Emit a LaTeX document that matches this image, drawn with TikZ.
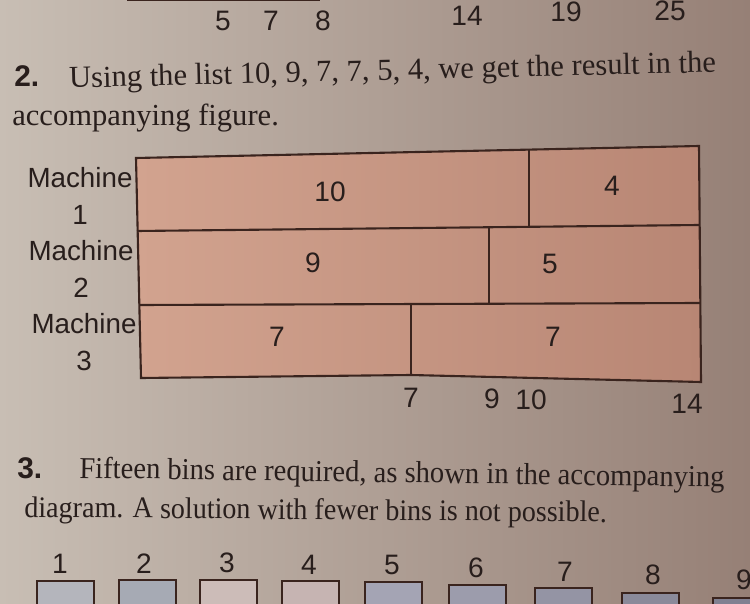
\documentclass[tikz,border=0pt]{standalone}
\usepackage{fontspec}
\setmainfont{Liberation Serif}
\newfontfamily\narrowserif[FakeStretch=0.94]{Liberation Serif}
\newfontfamily\figfont{Liberation Sans}
\usetikzlibrary{positioning}

\definecolor{paperL}{RGB}{200,190,180}
\definecolor{paperR}{RGB}{150,128,118}
\definecolor{boxL}{RGB}{210,163,143}
\definecolor{boxR}{RGB}{184,134,116}
\definecolor{ink}{RGB}{40,30,28}
\definecolor{rule}{RGB}{58,36,30}
\definecolor{binA}{RGB}{180,181,188}
\definecolor{binB}{RGB}{166,170,180}
\definecolor{binC}{RGB}{204,188,184}
\definecolor{binD}{RGB}{198,180,178}
\definecolor{binE}{RGB}{164,164,180}
\definecolor{binF}{RGB}{156,156,172}
\definecolor{binG}{RGB}{148,148,164}
\definecolor{binH}{RGB}{138,138,154}
\definecolor{binI}{RGB}{128,128,145}

\begin{document}
\begin{tikzpicture}[x=0.02cm, y=-0.02cm, text=ink,
    body/.style={inner sep=0pt, anchor=base west, font=\fontsize{17.4}{20}\selectfont},
    narrowbody/.style={inner sep=0pt, anchor=base west, font=\narrowserif\fontsize{17}{20}\selectfont},
    qnum/.style={inner sep=0pt, anchor=base west, font=\figfont\bfseries\fontsize{17}{20}\selectfont},
    fignum/.style={inner sep=0pt, font=\figfont\fontsize{16}{19}\selectfont},
    machine/.style={inner sep=0pt, align=center, font=\figfont\fontsize{15.8}{21}\selectfont}]
    \clip (0,0) rectangle (750,604);

    % Paper
    \shade[left color=paperL, right color=paperR] (0,0) rectangle (750,604);

    % End of the figure above
    \draw[rule, line width=1.6pt] (127,0) -- (320,0);
    \node[fignum] (p5) at (223,21) {5};
    \node[fignum] (p7) at (271,21) {7};
    \node[fignum] (p8) at (323,21) {8};
    \node[fignum] (p14) at (467,16) {14};
    \node[fignum] (p19) at (566,12) {19};
    \node[fignum] (p25) at (670,11) {25};

    % Exercise 2
    \node[qnum] (q2) at (14,87) {2.};
    \node[body, rotate=1.4] (q2a) at (69,88) {Using the list 10, 9, 7, 7, 5, 4, we get the result in the};
    \node[body] (q2b) at (12,126) {accompanying figure.};

    % Machine schedule
    \coordinate (tl) at (136,158);
    \coordinate (tr) at (699,146);
    \coordinate (br) at (701,382);
    \coordinate (bm) at (411,375);
    \coordinate (bl) at (141,378);
    \shade[left color=boxL, right color=boxR] (tl) -- (tr) -- (br) -- (bm) -- (bl) -- cycle;
    \draw[rule, line width=1.2pt] (tl) -- (tr) -- (br) -- (bm) -- (bl) -- cycle;
    \draw[rule, line width=1.2pt] (137,231) -- (699,225);
    \draw[rule, line width=1.2pt] (139,305) -- (700,303);
    \draw[rule, line width=1.2pt] (529,149) -- (529,226);
    \draw[rule, line width=1.2pt] (489,227) -- (489,303);
    \draw[rule, line width=1.2pt] (411,304) -- (bm);

    \node[machine] (m1) at (80,196) {Machine\\1};
    \node[machine] (m2) at (81,269) {Machine\\2};
    \node[machine] (m3) at (84,342) {Machine\\3};

    \node[fignum] (j10) at (330,192) {10};
    \node[fignum] (j4) at (612,186) {4};
    \node[fignum] (j9) at (313,263) {9};
    \node[fignum] (j5) at (550,264) {5};
    \node[fignum] (j7a) at (277,337) {7};
    \node[fignum] (j7b) at (553,337) {7};

    \node[fignum] (t7) at (411,398) {7};
    \node[fignum] (t9) at (492,399) {9};
    \node[fignum] (t10) at (531,400) {10};
    \node[fignum] (t14) at (687,404) {14};

    % Exercise 3
    \node[qnum] (q3) at (17,478) {3.};
    \node[narrowbody, rotate=-0.8, font=\narrowserif\fontsize{17.3}{20}\selectfont] (q3a) at (79,478) {Fifteen bins are required, as shown in the accompanying};
    \node[narrowbody, rotate=-0.5] (q3b) at (24,517) {diagram. A solution with fewer bins is not possible.};

    % Bins
    \foreach \i/\x/\y/\c in {1/37/581/binA, 2/119/580/binB, 3/200/580/binC, 4/282/581/binD,
        5/365/582/binE, 6/449/585/binF, 7/535/588/binG, 8/622/593/binH, 9/713/598/binI} {
        \filldraw[fill=\c, draw=rule, line width=1pt] (\x,620) -- (\x,\y) -- ++(57,0) -- ++(0,40);
    }
    \foreach \i/\x/\y in {1/60/564, 2/144/564, 3/227/563, 4/309/565, 5/392/565,
        6/476/568, 7/565/572, 8/653/575, 9/744/580} {
        \node[fignum] (bin\i) at (\x,\y) {\i};
    }
\end{tikzpicture}
\end{document}
